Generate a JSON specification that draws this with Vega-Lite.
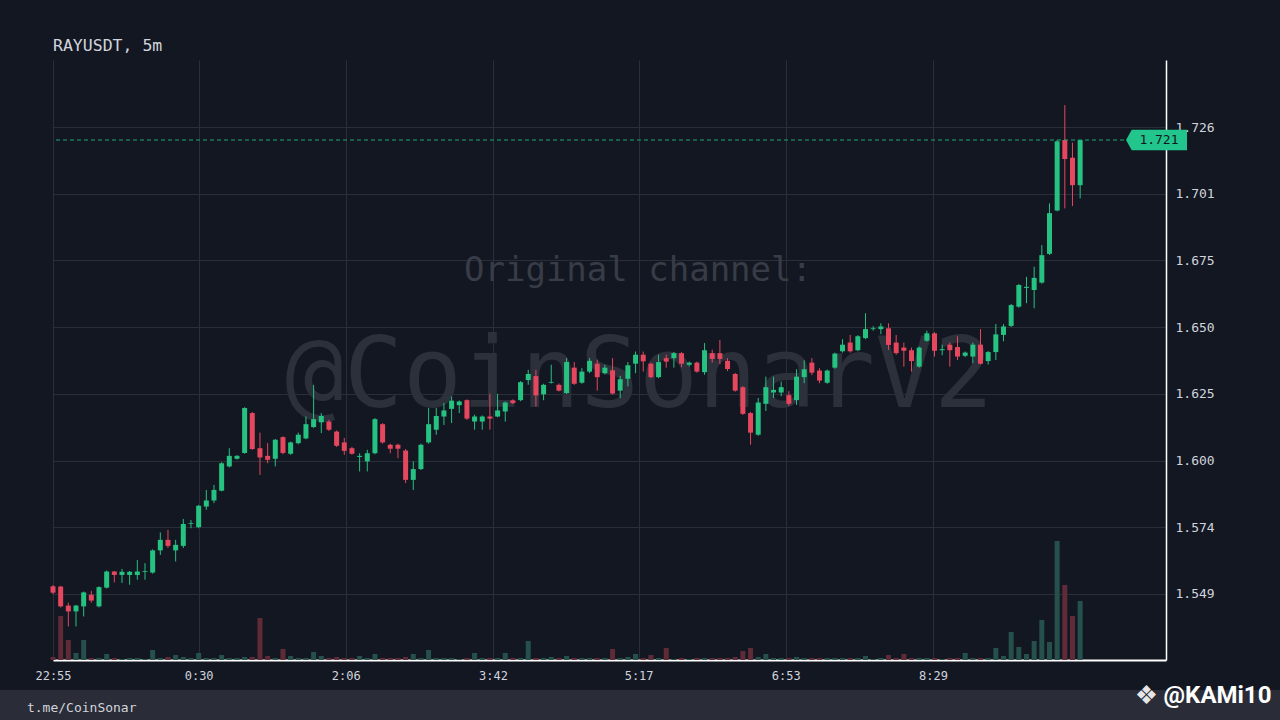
{
  "$schema": "https://vega.github.io/schema/vega-lite/v6.json",
  "width": 1113,
  "height": 600,
  "autosize": {"type": "none"},
  "padding": {"left": 53, "top": 60, "right": 114, "bottom": 60},
  "background": "#131722",
  "config": {
    "view": {"stroke": null},
    "font": "DejaVu Sans Mono",
    "axis": {"grid": true, "gridColor": "#2a2e39", "gridWidth": 1, "ticks": false, "domainColor": "#ffffff", "labelColor": "#d1d4dc", "labelFont": "DejaVu Sans Mono", "labelPadding": 9, "labelBound": false, "labelFlush": false, "labelOverlap": false},
    "axisX": {"labelFontSize": 12, "domainWidth": 2, "labelPadding": 10},
    "axisY": {"labelFontSize": 13, "domainWidth": 1.5}
  },
  "title": {"text": "RAYUSDT, 5m", "anchor": "start", "frame": "group", "offset": 6, "font": "DejaVu Sans Mono", "fontSize": 16.5, "fontWeight": "normal", "color": "#d1d4dc"},
  "data": {"values": [
    {"t":0,"o":1.5520,"h":1.5525,"l":1.5490,"c":1.5496,"v":3},
    {"t":5,"o":1.5519,"h":1.5522,"l":1.5440,"c":1.5444,"v":44},
    {"t":10,"o":1.5447,"h":1.5458,"l":1.5368,"c":1.5425,"v":20},
    {"t":15,"o":1.5425,"h":1.5450,"l":1.5368,"c":1.5447,"v":7},
    {"t":20,"o":1.5444,"h":1.5500,"l":1.5406,"c":1.5497,"v":20},
    {"t":25,"o":1.5488,"h":1.5503,"l":1.5458,"c":1.5466,"v":2},
    {"t":30,"o":1.5444,"h":1.5520,"l":1.5440,"c":1.5517,"v":2},
    {"t":35,"o":1.5515,"h":1.5580,"l":1.5512,"c":1.5576,"v":6},
    {"t":40,"o":1.5576,"h":1.5578,"l":1.5535,"c":1.5563,"v":2},
    {"t":45,"o":1.5563,"h":1.5586,"l":1.5533,"c":1.5575,"v":1},
    {"t":50,"o":1.5563,"h":1.5578,"l":1.5526,"c":1.5575,"v":2},
    {"t":55,"o":1.5563,"h":1.5620,"l":1.5545,"c":1.5576,"v":2},
    {"t":60,"o":1.5575,"h":1.5608,"l":1.5545,"c":1.5578,"v":1},
    {"t":65,"o":1.5572,"h":1.5660,"l":1.5568,"c":1.5656,"v":10},
    {"t":70,"o":1.5656,"h":1.5724,"l":1.5639,"c":1.5696,"v":2},
    {"t":75,"o":1.5696,"h":1.5734,"l":1.5665,"c":1.5673,"v":3},
    {"t":80,"o":1.5656,"h":1.5696,"l":1.5614,"c":1.5677,"v":5},
    {"t":85,"o":1.5673,"h":1.5775,"l":1.5665,"c":1.5756,"v":3},
    {"t":90,"o":1.5757,"h":1.5771,"l":1.5740,"c":1.5760,"v":2},
    {"t":95,"o":1.5744,"h":1.5828,"l":1.5740,"c":1.5825,"v":7},
    {"t":100,"o":1.5822,"h":1.5885,"l":1.5810,"c":1.5845,"v":2},
    {"t":105,"o":1.5845,"h":1.5904,"l":1.5835,"c":1.5885,"v":2},
    {"t":110,"o":1.5882,"h":1.5990,"l":1.5880,"c":1.5986,"v":5},
    {"t":115,"o":1.5974,"h":1.6043,"l":1.5970,"c":1.6014,"v":2},
    {"t":120,"o":1.6003,"h":1.6017,"l":1.6000,"c":1.6014,"v":2},
    {"t":125,"o":1.6025,"h":1.6198,"l":1.6022,"c":1.6195,"v":3},
    {"t":130,"o":1.6176,"h":1.6180,"l":1.6037,"c":1.6040,"v":3},
    {"t":135,"o":1.6043,"h":1.6102,"l":1.5942,"c":1.6008,"v":42},
    {"t":140,"o":1.6014,"h":1.6062,"l":1.5986,"c":1.5999,"v":4},
    {"t":145,"o":1.6003,"h":1.6078,"l":1.5974,"c":1.6075,"v":2},
    {"t":150,"o":1.6085,"h":1.6088,"l":1.6020,"c":1.6025,"v":11},
    {"t":155,"o":1.6022,"h":1.6068,"l":1.6018,"c":1.6065,"v":4},
    {"t":160,"o":1.6062,"h":1.6102,"l":1.6058,"c":1.6094,"v":2},
    {"t":165,"o":1.6080,"h":1.6163,"l":1.6077,"c":1.6134,"v":2},
    {"t":170,"o":1.6123,"h":1.6283,"l":1.6120,"c":1.6153,"v":8},
    {"t":175,"o":1.6141,"h":1.6176,"l":1.6100,"c":1.6165,"v":4},
    {"t":180,"o":1.6144,"h":1.6150,"l":1.6108,"c":1.6113,"v":2},
    {"t":185,"o":1.6106,"h":1.6110,"l":1.6048,"c":1.6052,"v":3},
    {"t":190,"o":1.6065,"h":1.6082,"l":1.6018,"c":1.6033,"v":2},
    {"t":195,"o":1.6043,"h":1.6048,"l":1.6018,"c":1.6022,"v":2},
    {"t":200,"o":1.6010,"h":1.6024,"l":1.5955,"c":1.6014,"v":4},
    {"t":205,"o":1.5993,"h":1.6037,"l":1.5955,"c":1.6024,"v":2},
    {"t":210,"o":1.6024,"h":1.6157,"l":1.6020,"c":1.6153,"v":6},
    {"t":215,"o":1.6134,"h":1.6138,"l":1.6060,"c":1.6065,"v":2},
    {"t":220,"o":1.6056,"h":1.6060,"l":1.6024,"c":1.6041,"v":2},
    {"t":225,"o":1.6056,"h":1.6060,"l":1.6005,"c":1.6041,"v":2},
    {"t":230,"o":1.6034,"h":1.6040,"l":1.5911,"c":1.5923,"v":3},
    {"t":235,"o":1.5923,"h":1.5993,"l":1.5885,"c":1.5964,"v":6},
    {"t":240,"o":1.5964,"h":1.6060,"l":1.5960,"c":1.6056,"v":2},
    {"t":245,"o":1.6065,"h":1.6195,"l":1.6060,"c":1.6134,"v":10},
    {"t":250,"o":1.6113,"h":1.6195,"l":1.6094,"c":1.6165,"v":2},
    {"t":255,"o":1.6163,"h":1.6214,"l":1.6131,"c":1.6186,"v":2},
    {"t":260,"o":1.6192,"h":1.6239,"l":1.6138,"c":1.6223,"v":2},
    {"t":265,"o":1.6206,"h":1.6224,"l":1.6176,"c":1.6220,"v":1},
    {"t":270,"o":1.6225,"h":1.6228,"l":1.6150,"c":1.6155,"v":2},
    {"t":275,"o":1.6144,"h":1.6170,"l":1.6113,"c":1.6163,"v":7},
    {"t":280,"o":1.6144,"h":1.6167,"l":1.6113,"c":1.6163,"v":2},
    {"t":285,"o":1.6163,"h":1.6249,"l":1.6113,"c":1.6155,"v":2},
    {"t":290,"o":1.6163,"h":1.6249,"l":1.6160,"c":1.6186,"v":2},
    {"t":295,"o":1.6182,"h":1.6220,"l":1.6144,"c":1.6216,"v":7},
    {"t":300,"o":1.6224,"h":1.6228,"l":1.6210,"c":1.6214,"v":2},
    {"t":305,"o":1.6225,"h":1.6297,"l":1.6221,"c":1.6293,"v":2},
    {"t":310,"o":1.6301,"h":1.6340,"l":1.6283,"c":1.6324,"v":19},
    {"t":315,"o":1.6316,"h":1.6340,"l":1.6201,"c":1.6243,"v":2},
    {"t":320,"o":1.6247,"h":1.6287,"l":1.6225,"c":1.6283,"v":2},
    {"t":325,"o":1.6291,"h":1.6359,"l":1.6288,"c":1.6294,"v":3},
    {"t":330,"o":1.6283,"h":1.6288,"l":1.6258,"c":1.6261,"v":2},
    {"t":335,"o":1.6252,"h":1.6384,"l":1.6248,"c":1.6369,"v":4},
    {"t":340,"o":1.6348,"h":1.6369,"l":1.6283,"c":1.6287,"v":2},
    {"t":345,"o":1.6291,"h":1.6346,"l":1.6287,"c":1.6333,"v":2},
    {"t":350,"o":1.6333,"h":1.6384,"l":1.6327,"c":1.6374,"v":2},
    {"t":355,"o":1.6363,"h":1.6378,"l":1.6261,"c":1.6312,"v":2},
    {"t":360,"o":1.6327,"h":1.6359,"l":1.6322,"c":1.6348,"v":2},
    {"t":365,"o":1.6338,"h":1.6384,"l":1.6246,"c":1.6250,"v":11},
    {"t":370,"o":1.6261,"h":1.6317,"l":1.6233,"c":1.6304,"v":2},
    {"t":375,"o":1.6306,"h":1.6369,"l":1.6277,"c":1.6357,"v":3},
    {"t":380,"o":1.6363,"h":1.6409,"l":1.6327,"c":1.6397,"v":6},
    {"t":385,"o":1.6397,"h":1.6409,"l":1.6333,"c":1.6372,"v":2},
    {"t":390,"o":1.6363,"h":1.6367,"l":1.6308,"c":1.6312,"v":5},
    {"t":395,"o":1.6312,"h":1.6397,"l":1.6308,"c":1.6369,"v":2},
    {"t":400,"o":1.6384,"h":1.6397,"l":1.6348,"c":1.6371,"v":12},
    {"t":405,"o":1.6384,"h":1.6407,"l":1.6348,"c":1.6403,"v":1},
    {"t":410,"o":1.6403,"h":1.6407,"l":1.6350,"c":1.6363,"v":2},
    {"t":415,"o":1.6359,"h":1.6371,"l":1.6352,"c":1.6367,"v":1},
    {"t":420,"o":1.6367,"h":1.6371,"l":1.6329,"c":1.6333,"v":2},
    {"t":425,"o":1.6331,"h":1.6441,"l":1.6321,"c":1.6414,"v":2},
    {"t":430,"o":1.6403,"h":1.6416,"l":1.6367,"c":1.6381,"v":2},
    {"t":435,"o":1.6403,"h":1.6453,"l":1.6361,"c":1.6381,"v":2},
    {"t":440,"o":1.6374,"h":1.6384,"l":1.6335,"c":1.6343,"v":2},
    {"t":445,"o":1.6324,"h":1.6328,"l":1.6257,"c":1.6261,"v":3},
    {"t":450,"o":1.6274,"h":1.6278,"l":1.6169,"c":1.6173,"v":9},
    {"t":455,"o":1.6176,"h":1.6180,"l":1.6056,"c":1.6102,"v":12},
    {"t":460,"o":1.6094,"h":1.6233,"l":1.6090,"c":1.6216,"v":3},
    {"t":465,"o":1.6211,"h":1.6314,"l":1.6184,"c":1.6274,"v":6},
    {"t":470,"o":1.6254,"h":1.6314,"l":1.6233,"c":1.6264,"v":2},
    {"t":475,"o":1.6254,"h":1.6295,"l":1.6240,"c":1.6274,"v":2},
    {"t":480,"o":1.6244,"h":1.6259,"l":1.6203,"c":1.6211,"v":2},
    {"t":485,"o":1.6225,"h":1.6342,"l":1.6207,"c":1.6314,"v":3},
    {"t":490,"o":1.6312,"h":1.6376,"l":1.6289,"c":1.6342,"v":2},
    {"t":495,"o":1.6367,"h":1.6384,"l":1.6320,"c":1.6329,"v":2},
    {"t":500,"o":1.6337,"h":1.6346,"l":1.6289,"c":1.6299,"v":2},
    {"t":505,"o":1.6291,"h":1.6341,"l":1.6287,"c":1.6337,"v":2},
    {"t":510,"o":1.6348,"h":1.6405,"l":1.6344,"c":1.6401,"v":2},
    {"t":515,"o":1.6410,"h":1.6456,"l":1.6405,"c":1.6435,"v":2},
    {"t":520,"o":1.6443,"h":1.6472,"l":1.6405,"c":1.6410,"v":2},
    {"t":525,"o":1.6414,"h":1.6471,"l":1.6410,"c":1.6467,"v":2},
    {"t":530,"o":1.6460,"h":1.6554,"l":1.6456,"c":1.6494,"v":4},
    {"t":535,"o":1.6494,"h":1.6505,"l":1.6488,"c":1.6497,"v":1},
    {"t":540,"o":1.6494,"h":1.6516,"l":1.6475,"c":1.6504,"v":2},
    {"t":545,"o":1.6497,"h":1.6516,"l":1.6415,"c":1.6434,"v":5},
    {"t":550,"o":1.6443,"h":1.6472,"l":1.6397,"c":1.6403,"v":2},
    {"t":555,"o":1.6424,"h":1.6443,"l":1.6352,"c":1.6412,"v":6},
    {"t":560,"o":1.6414,"h":1.6424,"l":1.6333,"c":1.6373,"v":2},
    {"t":565,"o":1.6352,"h":1.6428,"l":1.6348,"c":1.6424,"v":2},
    {"t":570,"o":1.6450,"h":1.6488,"l":1.6446,"c":1.6478,"v":2},
    {"t":575,"o":1.6478,"h":1.6482,"l":1.6390,"c":1.6412,"v":2},
    {"t":580,"o":1.6414,"h":1.6435,"l":1.6395,"c":1.6418,"v":1},
    {"t":585,"o":1.6435,"h":1.6443,"l":1.6352,"c":1.6414,"v":2},
    {"t":590,"o":1.6426,"h":1.6467,"l":1.6377,"c":1.6390,"v":2},
    {"t":595,"o":1.6393,"h":1.6409,"l":1.6388,"c":1.6405,"v":7},
    {"t":600,"o":1.6390,"h":1.6443,"l":1.6365,"c":1.6435,"v":2},
    {"t":605,"o":1.6435,"h":1.6494,"l":1.6360,"c":1.6363,"v":2},
    {"t":610,"o":1.6373,"h":1.6411,"l":1.6360,"c":1.6407,"v":2},
    {"t":615,"o":1.6407,"h":1.6513,"l":1.6377,"c":1.6474,"v":12},
    {"t":620,"o":1.6472,"h":1.6513,"l":1.6448,"c":1.6504,"v":4},
    {"t":625,"o":1.6506,"h":1.6589,"l":1.6502,"c":1.6585,"v":28},
    {"t":630,"o":1.6579,"h":1.6665,"l":1.6575,"c":1.6661,"v":13},
    {"t":635,"o":1.6650,"h":1.6692,"l":1.6592,"c":1.6654,"v":6},
    {"t":640,"o":1.6642,"h":1.6730,"l":1.6573,"c":1.6688,"v":19},
    {"t":645,"o":1.6670,"h":1.6812,"l":1.6666,"c":1.6774,"v":40},
    {"t":650,"o":1.6779,"h":1.6970,"l":1.6775,"c":1.6933,"v":18},
    {"t":655,"o":1.6943,"h":1.7210,"l":1.6940,"c":1.7205,"v":119},
    {"t":660,"o":1.7210,"h":1.7342,"l":1.6951,"c":1.7138,"v":75},
    {"t":665,"o":1.7143,"h":1.7200,"l":1.6960,"c":1.7039,"v":44},
    {"t":670,"o":1.7039,"h":1.7210,"l":1.6989,"c":1.7210,"v":59}
  ]},
  "layer": [
    {
      "layer": [
        {
          "data": {"values": [{}]},
          "mark": {"type": "text", "text": "Original channel:", "font": "DejaVu Sans Mono", "fontSize": 34, "color": "#383c47", "align": "center", "baseline": "middle", "clip": false},
          "encoding": {
            "x": {"datum": 381.6, "type": "quantitative", "title": null, "scale": {"domain": [0, 726], "nice": false, "zero": false, "padding": 0},
                  "axis": {"values": [0, 95, 191, 287, 382, 478, 574], "labelExpr": "floor(((datum.value + 1375) % 1440) / 60) + ':' + pad(((datum.value + 1375) % 60) + '', 2, '0', 'left')", "title": null}},
            "y": {"datum": 1.6714, "type": "quantitative", "title": null, "scale": {"domain": [1.5241, 1.7513], "nice": false, "zero": false},
                  "axis": {"orient": "right", "values": [1.5491, 1.5744, 1.5996, 1.6249, 1.6501, 1.6754, 1.7006, 1.7259], "format": ".3f", "title": null}}
          }
        },
        {
          "data": {"values": [{}]},
          "mark": {"type": "text", "text": "@CoinSonarV2", "font": "DejaVu Sans Mono", "fontSize": 98, "color": "#2c303b", "align": "center", "baseline": "middle", "clip": false},
          "encoding": {
            "x": {"datum": 382.2, "type": "quantitative", "title": null, "scale": {"domain": [0, 726], "nice": false, "zero": false, "padding": 0}},
            "y": {"datum": 1.6309, "type": "quantitative", "title": null, "scale": {"domain": [1.5241, 1.7513], "nice": false, "zero": false}}
          }
        },
        {
          "mark": {"type": "rule", "strokeWidth": 1},
          "encoding": {
            "x": {"field": "t", "type": "quantitative", "title": null, "scale": {"domain": [0, 726], "nice": false, "zero": false, "padding": 0}},
            "y": {"field": "l", "type": "quantitative", "title": null, "scale": {"domain": [1.5241, 1.7513], "nice": false, "zero": false}},
            "y2": {"field": "h"},
            "color": {"condition": {"test": "datum.c >= datum.o", "value": "#26c281"}, "value": "#e4475e"}
          }
        },
        {
          "mark": {"type": "bar", "width": 5},
          "encoding": {
            "x": {"field": "t", "type": "quantitative", "title": null, "scale": {"domain": [0, 726], "nice": false, "zero": false, "padding": 0}},
            "y": {"field": "o", "type": "quantitative", "title": null, "scale": {"domain": [1.5241, 1.7513], "nice": false, "zero": false}},
            "y2": {"field": "c"},
            "color": {"condition": {"test": "datum.c >= datum.o", "value": "#26c281"}, "value": "#e4475e"}
          }
        },
        {
          "data": {"values": [{}]},
          "mark": {"type": "rule", "strokeDash": [4, 3], "color": "#22a774", "strokeWidth": 1},
          "encoding": {
            "y": {"datum": 1.721, "type": "quantitative", "title": null, "scale": {"domain": [1.5241, 1.7513], "nice": false, "zero": false}}
          }
        },
        {
          "data": {"values": [{}]},
          "mark": {"type": "point", "shape": "M-1,0L-0.81,-0.338L1,-0.338L1,0.338L-0.81,0.338Z", "filled": true, "color": "#22c58b", "opacity": 1, "size": 3721, "clip": false},
          "encoding": {
            "x": {"datum": 719.8, "type": "quantitative", "title": null, "scale": {"domain": [0, 726], "nice": false, "zero": false, "padding": 0}},
            "y": {"datum": 1.721, "type": "quantitative", "title": null, "scale": {"domain": [1.5241, 1.7513], "nice": false, "zero": false}}
          }
        },
        {
          "data": {"values": [{}]},
          "mark": {"type": "text", "text": "1.721", "font": "DejaVu Sans Mono", "fontSize": 13, "color": "#131722", "align": "center", "baseline": "middle", "clip": false},
          "encoding": {
            "x": {"datum": 721.4, "type": "quantitative", "title": null, "scale": {"domain": [0, 726], "nice": false, "zero": false, "padding": 0}},
            "y": {"datum": 1.721, "type": "quantitative", "title": null, "scale": {"domain": [1.5241, 1.7513], "nice": false, "zero": false}}
          }
        },
        {
          "data": {"values": [{}]},
          "mark": {"type": "rect", "color": "#2a2d37", "clip": false},
          "encoding": {
            "x": {"datum": -40, "type": "quantitative", "title": null, "scale": {"domain": [0, 726], "nice": false, "zero": false, "padding": 0}},
            "x2": {"datum": 820},
            "y": {"datum": 1.5127, "type": "quantitative", "title": null, "scale": {"domain": [1.5241, 1.7513], "nice": false, "zero": false}},
            "y2": {"datum": 1.49}
          }
        },
        {
          "data": {"values": [{}]},
          "mark": {"type": "text", "text": "t.me/CoinSonar", "font": "DejaVu Sans Mono", "fontSize": 13, "color": "#d1d4dc", "align": "left", "baseline": "middle", "clip": false},
          "encoding": {
            "x": {"datum": -17, "type": "quantitative", "title": null, "scale": {"domain": [0, 726], "nice": false, "zero": false, "padding": 0}},
            "y": {"datum": 1.5059, "type": "quantitative", "title": null, "scale": {"domain": [1.5241, 1.7513], "nice": false, "zero": false}}
          }
        },
        {
          "data": {"values": [{}]},
          "mark": {"type": "text", "text": "❖", "font": "DejaVu Sans", "fontSize": 26, "color": "#e6e6e6", "align": "center", "baseline": "middle", "clip": false},
          "encoding": {
            "x": {"datum": 713.3, "type": "quantitative", "title": null, "scale": {"domain": [0, 726], "nice": false, "zero": false, "padding": 0}},
            "y": {"datum": 1.5105, "type": "quantitative", "title": null, "scale": {"domain": [1.5241, 1.7513], "nice": false, "zero": false}}
          }
        },
        {
          "data": {"values": [{}]},
          "mark": {"type": "text", "text": "@KAMi10", "font": "Roboto", "fontSize": 24, "fontWeight": "bold", "color": "#ffffff", "align": "center", "baseline": "middle", "clip": false},
          "encoding": {
            "x": {"datum": 759.6, "type": "quantitative", "title": null, "scale": {"domain": [0, 726], "nice": false, "zero": false, "padding": 0}},
            "y": {"datum": 1.5105, "type": "quantitative", "title": null, "scale": {"domain": [1.5241, 1.7513], "nice": false, "zero": false}}
          }
        }
      ]
    },
    {
      "mark": {"type": "bar", "width": 5},
      "encoding": {
        "x": {"field": "t", "type": "quantitative", "title": null, "scale": {"domain": [0, 726], "nice": false, "zero": false, "padding": 0}},
        "y": {"field": "v", "type": "quantitative", "scale": {"domain": [0, 600], "nice": false}, "axis": null},
        "color": {"condition": {"test": "datum.c >= datum.o", "value": "#26504b"}, "value": "#5e2b37"}
      }
    }
  ],
  "resolve": {"scale": {"y": "independent"}, "axis": {"y": "independent"}}
}
